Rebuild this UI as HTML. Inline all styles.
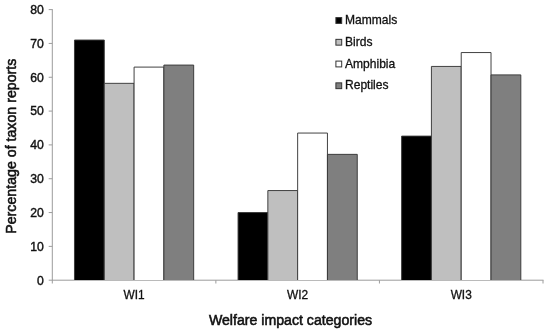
<!DOCTYPE html><html><head><meta charset="utf-8"><title>chart</title><style>html,body{margin:0;padding:0;background:#fff}svg{display:block;filter:blur(0.4px)}text{font-family:"Liberation Sans",Arial,sans-serif;fill:#111;stroke:#111;stroke-width:0.3px}.t{stroke-width:0.55px}.k{stroke-width:0.4px}</style></head><body>
<svg width="550" height="332" viewBox="0 0 550 332">
<rect width="550" height="332" fill="#fff"/>
<g stroke="#9c9c9c" stroke-width="1" fill="none">
<line x1="52.3" y1="9.1" x2="52.3" y2="283.5"/>
<line x1="48.699999999999996" y1="280.2" x2="543.5" y2="280.2"/>
<line x1="48.699999999999996" y1="246.38" x2="52.3" y2="246.38"/>
<line x1="48.699999999999996" y1="212.55" x2="52.3" y2="212.55"/>
<line x1="48.699999999999996" y1="178.73" x2="52.3" y2="178.73"/>
<line x1="48.699999999999996" y1="144.90" x2="52.3" y2="144.90"/>
<line x1="48.699999999999996" y1="111.08" x2="52.3" y2="111.08"/>
<line x1="48.699999999999996" y1="77.25" x2="52.3" y2="77.25"/>
<line x1="48.699999999999996" y1="43.43" x2="52.3" y2="43.43"/>
<line x1="48.699999999999996" y1="9.60" x2="52.3" y2="9.60"/>
<line x1="215.87" y1="280.2" x2="215.87" y2="283.5"/>
<line x1="379.43" y1="280.2" x2="379.43" y2="283.5"/>
<line x1="543.00" y1="280.2" x2="543.00" y2="283.5"/>
</g>
<path d="M74.48 280.00V40.04H104.28V280.00" fill="#000000" stroke="#383838" stroke-width="0.95"/>
<path d="M104.28 280.00V83.34H134.08V280.00" fill="#bfbfbf" stroke="#383838" stroke-width="0.95"/>
<path d="M134.08 280.00V67.10H163.88V280.00" fill="#ffffff" stroke="#383838" stroke-width="0.95"/>
<path d="M163.88 280.00V65.07H193.68V280.00" fill="#7f7f7f" stroke="#383838" stroke-width="0.95"/>
<path d="M238.05 280.00V212.55H267.85V280.00" fill="#000000" stroke="#383838" stroke-width="0.95"/>
<path d="M267.85 280.00V190.56H297.65V280.00" fill="#bfbfbf" stroke="#383838" stroke-width="0.95"/>
<path d="M297.65 280.00V133.06H327.45V280.00" fill="#ffffff" stroke="#383838" stroke-width="0.95"/>
<path d="M327.45 280.00V154.37H357.25V280.00" fill="#7f7f7f" stroke="#383838" stroke-width="0.95"/>
<path d="M401.62 280.00V136.11H431.42V280.00" fill="#000000" stroke="#383838" stroke-width="0.95"/>
<path d="M431.42 280.00V66.43H461.22V280.00" fill="#bfbfbf" stroke="#383838" stroke-width="0.95"/>
<path d="M461.22 280.00V52.56H491.02V280.00" fill="#ffffff" stroke="#383838" stroke-width="0.95"/>
<path d="M491.02 280.00V74.88H520.82V280.00" fill="#7f7f7f" stroke="#383838" stroke-width="0.95"/>
<text class="k" x="43.8" y="284.50" font-size="12.2" text-anchor="end">0</text>
<text class="k" x="43.8" y="250.68" font-size="12.2" text-anchor="end">10</text>
<text class="k" x="43.8" y="216.85" font-size="12.2" text-anchor="end">20</text>
<text class="k" x="43.8" y="183.03" font-size="12.2" text-anchor="end">30</text>
<text class="k" x="43.8" y="149.20" font-size="12.2" text-anchor="end">40</text>
<text class="k" x="43.8" y="115.38" font-size="12.2" text-anchor="end">50</text>
<text class="k" x="43.8" y="81.55" font-size="12.2" text-anchor="end">60</text>
<text class="k" x="43.8" y="47.73" font-size="12.2" text-anchor="end">70</text>
<text class="k" x="43.8" y="13.90" font-size="12.2" text-anchor="end">80</text>
<text x="134.08" y="298.7" font-size="11.9" text-anchor="middle">WI1</text>
<text x="297.65" y="298.7" font-size="11.9" text-anchor="middle">WI2</text>
<text x="461.22" y="298.7" font-size="11.9" text-anchor="middle">WI3</text>
<text class="t" x="290.5" y="324.7" font-size="14.15" text-anchor="middle">Welfare impact categories</text>
<text class="t" transform="translate(16.0,146.2) rotate(-90)" font-size="14.2" text-anchor="middle">Percentage of taxon reports</text>
<rect x="335.9" y="17.60" width="5.8" height="5.8" fill="#000000" stroke="#333" stroke-width="1"/>
<text x="345" y="24.10" font-size="12.05">Mammals</text>
<rect x="335.9" y="39.35" width="5.8" height="5.8" fill="#bfbfbf" stroke="#333" stroke-width="1"/>
<text x="345" y="45.85" font-size="12.05">Birds</text>
<rect x="335.9" y="61.10" width="5.8" height="5.8" fill="#ffffff" stroke="#333" stroke-width="1"/>
<text x="345" y="67.60" font-size="12.05">Amphibia</text>
<rect x="335.9" y="82.85" width="5.8" height="5.8" fill="#7f7f7f" stroke="#333" stroke-width="1"/>
<text x="345" y="89.35" font-size="12.05">Reptiles</text>
</svg></body></html>
